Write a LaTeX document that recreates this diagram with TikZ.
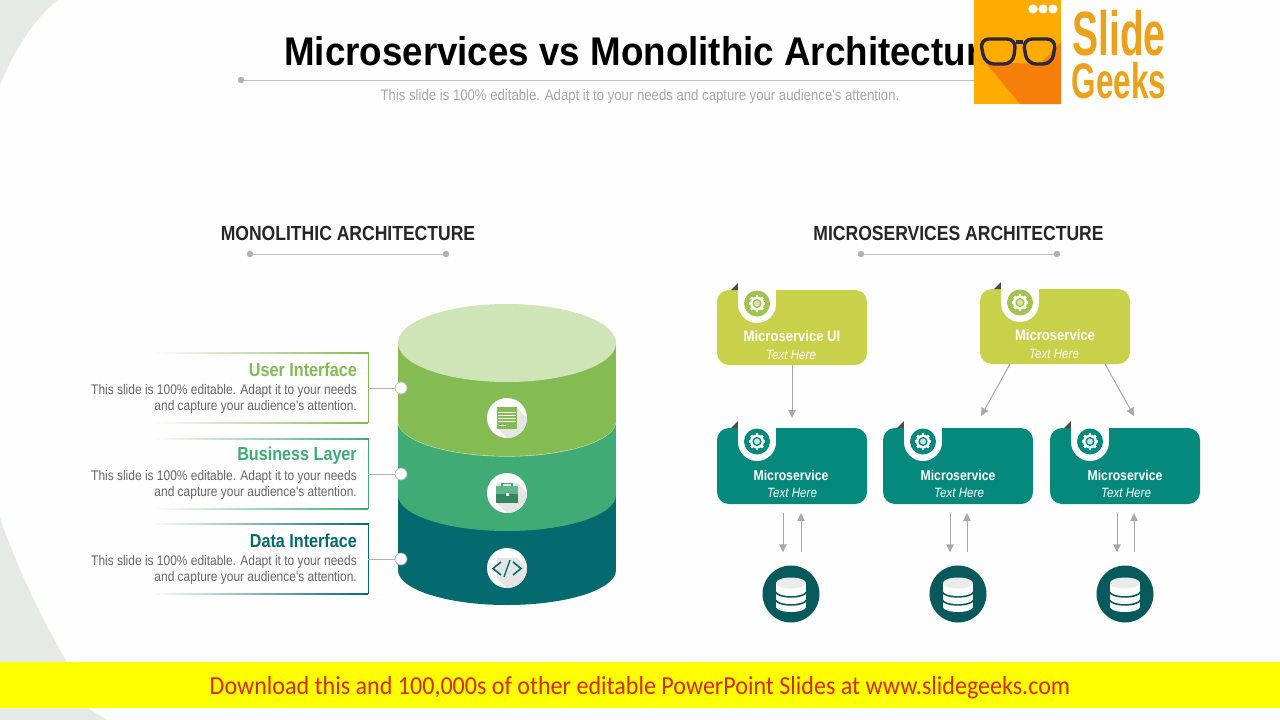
\documentclass[tikz,border=0pt]{standalone}
\usepackage{fontspec}
\usetikzlibrary{arrows.meta}
\setmainfont{Liberation Sans}
\newfontfamily\condfont[FakeStretch=0.86]{Liberation Sans}
\newfontfamily\bannerfont{Carlito}
\newcommand{\fsz}[1]{\fontsize{#1}{#1}\selectfont}
\definecolor{pagebg}{HTML}{FDFEFD}
\definecolor{swoosh}{HTML}{E6EAE6}
\definecolor{toptone}{HTML}{CFE5B8}
\definecolor{usertone}{HTML}{84BB52}
\definecolor{bustone}{HTML}{40AB74}
\definecolor{datatone}{HTML}{046A70}
\definecolor{limebox}{HTML}{C9D14A}
\definecolor{tealbox}{HTML}{05897C}
\definecolor{dbtone}{HTML}{07595C}
\definecolor{arrowgray}{HTML}{A8A8A8}
\definecolor{bodygray}{HTML}{666666}
\definecolor{logoorange}{HTML}{FFAB00}
\definecolor{logodark}{HTML}{F57F0A}
\definecolor{logotext}{HTML}{EBA21A}
\definecolor{lensdark}{HTML}{2D2640}
\definecolor{bandyellow}{HTML}{FFFF00}
\definecolor{bandred}{HTML}{D42A00}
\tikzset{
  headtext/.style={font=\condfont\bfseries\fsz{20.4},text=black!85},
  paneltitle/.style={font=\condfont\bfseries\fsz{18.8},anchor=east,inner sep=0pt},
  paneltext/.style={font=\condfont\fsz{13.9},text=bodygray,anchor=east,align=right,inner sep=0pt},
  boxtitle/.style={font=\condfont\bfseries\fsz{14.2},text=white,inner sep=0pt},
  limetitle/.style={font=\condfont\bfseries\fsz{15.2},text=white,inner sep=0pt},
  boxtext/.style={font=\condfont\itshape\fsz{13.5},text=white!90,inner sep=0pt},
  msbox/.style={rounded corners=12pt,minimum width=150pt,minimum height=75pt,inner sep=0pt,fill=#1},
  dotnode/.style={circle,draw=#1,fill=white,line width=.7pt,minimum size=12pt,inner sep=0pt},
  rulenode/.style={circle,fill=black!30,minimum size=6.5pt,inner sep=0pt},
  dbnode/.style={circle,fill=dbtone,minimum size=57pt,inner sep=0pt},
  flowarrow/.style={draw=arrowgray,line width=1pt,-{Triangle[length=8pt,width=7.5pt]}}
}
% roundel with a long shadow
\newcommand{\iconbase}[2]{
  \fill[white] (#1,#2) circle (20pt);
  \begin{scope}
    \clip (#1,#2) circle (20pt);
    \fill[black!10] (#1-10,#2-10) -- (#1+10,#2-10) -- (#1+30,#2+10) -- (#1+10,#2+30) -- (#1-10,#2+10) -- cycle;
  \end{scope}
}
% tab with gear on a box
\newcommand{\gearicon}[3]{
  \fill[black!70] (#1-61,#2) -- (#1-54,#2-7) -- (#1-54,#2) -- cycle;
  \fill[white] (#1-54,#2-8) rectangle (#1-16,#2+14);
  \fill[white] (#1-35,#2+14) circle (19pt);
  \fill[#3] (#1-35,#2+13.5) circle (13pt);
  \begin{scope}[shift={(#1-35,#2+13.5)}]
    \foreach \a in {0,45,...,315}
      \draw[white,line width=2.8pt] (\a:4) -- (\a:8.4);
    \fill[white] (0,0) circle (7pt);
    \fill[#3] (0,0) circle (4.6pt);
    \fill[white!80!#3] (0,0) circle (3pt);
  \end{scope}
}
\begin{document}
\begin{tikzpicture}[x=1pt,y=-1pt]
  \useasboundingbox (0,0) rectangle (1280,720);
  \fill[pagebg] (0,0) rectangle (1280,720);
  % Fundo
  \fill[swoosh] (0,0) -- (58,0) .. controls (35,18) and (14,50) .. (0,85) -- cycle;
  \fill[swoosh] (0,518) .. controls (20,575) and (45,625) .. (67,662) -- (0,662) -- cycle;
  \fill[swoosh] (0,708) -- (88,708) .. controls (94,712) and (100,716) .. (107,720) -- (0,720) -- cycle;
  % Titulo
  \node[anchor=west,inner sep=0pt,xscale=1.068,font=\condfont\bfseries\fsz{40}] (title) at (284,51) {Microservices vs Monolithic Architecture};
  \node[rulenode] (titledot) at (241,80) {};
  \coordinate (titleend) at (975,80);
  \draw[black!25,line width=.8pt] (titledot) -- (titleend);
  \node[font=\condfont\fsz{15.3},text=arrowgray,inner sep=0pt] (subtitle) at (640,97) {This slide is 100\% editable. Adapt it to your needs and capture your audience's attention.};
  % Logo
  \fill[logoorange] (974,0) rectangle (1061,104);
  \fill[logodark] (1061,42) -- (1061,104) -- (1020,104) -- (985,62) -- (1040,64) -- cycle;
  \foreach \x in {1033,1043,1053}
    \fill[white] (\x,9) circle (4.6pt);
  \draw[lensdark,line width=3.4pt,rounded corners=9pt] (980,39) -- (1016,39) -- (1013,64) -- (985,64) -- cycle;
  \draw[lensdark,line width=3.4pt,rounded corners=9pt] (1023,39) -- (1056,39) -- (1052,64) -- (1027,64) -- cycle;
  \draw[lensdark,line width=3.4pt] (1016,42) -- (1023,42);
  \node[font=\bfseries\fsz{50},text=logotext,xscale=.78,yscale=1.25,inner sep=0pt] (slide) at (1119,33) {Slide};
  \node[font=\bfseries\fsz{50},text=logotext,xscale=.63,yscale=1.0,inner sep=0pt] (geeks) at (1119,81) {Geeks};
  % Cabecalhos
  \node[headtext] (monohead) at (348,233) {MONOLITHIC ARCHITECTURE};
  \node[headtext] (microhead) at (958.5,233) {MICROSERVICES ARCHITECTURE};
  \node[rulenode] (monoa) at (250,254) {};
  \node[rulenode] (monob) at (446,254) {};
  \node[rulenode] (microa) at (861,254) {};
  \node[rulenode] (microb) at (1057,254) {};
  \draw[black!25,line width=.8pt] (monoa) -- (monob);
  \draw[black!25,line width=.8pt] (microa) -- (microb);
  % Cilindro
  \fill[datatone] (398,460) rectangle (616,570);
  \fill[datatone] (507,570) ellipse [x radius=109pt,y radius=35pt];
  \fill[bustone] (398,420) rectangle (616,495);
  \fill[bustone] (507,495) ellipse [x radius=109pt,y radius=36pt];
  \fill[toptone] (507,421) ellipse [x radius=109.4pt,y radius=35.6pt];
  \fill[usertone] (398,343) rectangle (616,421);
  \fill[usertone] (507,421) ellipse [x radius=109pt,y radius=35pt];
  \fill[toptone] (507,343) ellipse [x radius=109pt,y radius=39pt];
  % Icones
  \iconbase{507}{418}
  \fill[usertone] (497,407) rectangle (517,429);
  \foreach \y in {412,415,418,421}
    \draw[white,line width=.6pt] (498,\y) -- (516,\y);
  \draw[white,line width=.8pt] (499,425) -- (506,425);
  \iconbase{507}{493}
  \draw[bustone,line width=1.3pt] (502,486) -- (502,483.5) -- (512,483.5) -- (512,486);
  \fill[bustone!85!white] (496,486) rectangle (518,494);
  \fill[bustone!80!black] (496,494) rectangle (518,503);
  \fill[white] (505.5,492.5) rectangle (508.5,495.5);
  \iconbase{507}{568}
  \draw[datatone,line width=1.6pt] (501,562) -- (493,568.5) -- (501,575);
  \draw[datatone,line width=1.6pt] (513,562) -- (521,568.5) -- (513,575);
  \draw[datatone,line width=1.3pt] (510,560) -- (504,577);
  % Paineis
  \foreach \n/\y/\c/\t in {1/352/usertone/User Interface,2/438/bustone/Business Layer,3/523/datatone/Data Interface}{
    \shade[left color=white,middle color=black!12,right color=\c] (150,\y) rectangle (368,\y+1);
    \shade[left color=white,middle color=black!12,right color=\c] (150,\y+70) rectangle (368,\y+71);
    \draw[\c,line width=1pt] (368,\y) -- (368,\y+71);
    \node[paneltitle,text=\c] (paneltitle\n) at (357,\y+17.5) {\t};
    \node[paneltext] (paneltext\n) at (357,\y+47) {This slide is 100\% editable. Adapt it to your needs\\[1.5pt]and capture your audience's attention.};
    \coordinate (panel\n) at (368,\y+36);
    \node[dotnode=\c!60!black!40] (dot\n) at (401,\y+36) {};
    \draw[black!30,line width=.8pt] (panel\n) -- (dot\n);
  }
  % Caixas
  \node[msbox=limebox] (msui) at (792,327.5) {};
  \node[msbox=limebox] (mstop) at (1055,326.5) {};
  \node[msbox=tealbox,minimum height=76pt] (ms1) at (792,466) {};
  \node[msbox=tealbox,minimum height=76pt] (ms2) at (958,466) {};
  \node[msbox=tealbox,minimum height=76pt] (ms3) at (1125,466) {};
  \gearicon{792}{290}{usertone!60!limebox}
  \gearicon{1055}{289}{usertone!60!limebox}
  \gearicon{792}{428}{tealbox}
  \gearicon{958}{428}{tealbox}
  \gearicon{1125}{428}{tealbox}
  \node[limetitle] (msuititle) at (792,336) {Microservice UI};
  \node[boxtext] (msuitext) at (791,354.5) {Text Here};
  \node[limetitle] (mstoptitle) at (1055,335) {Microservice};
  \node[boxtext] (mstoptext) at (1054,354) {Text Here};
  \foreach \n/\x in {1/791,2/958,3/1125}{
    \node[boxtitle] (ms\n title) at (\x,475.5) {Microservice};
    \node[boxtext] (ms\n text) at (\x+1,492.5) {Text Here};
  }
  % Bases de dados
  \foreach \n/\x in {1/791,2/958,3/1125}{
    \node[dbnode] (db\n) at (\x,594) {};
    \begin{scope}[shift={(\x,594)}]
      \foreach \y in {13,5,-3}{
        \fill[dbtone] (0,\y+1.3) ellipse [x radius=15.8pt,y radius=5.4pt];
        \fill[white] (-15,\y-8) rectangle (15,\y);
        \fill[white] (0,\y) ellipse [x radius=15pt,y radius=5pt];
      }
      \fill[black!8] (0,-11) ellipse [x radius=15pt,y radius=5.5pt];
    \end{scope}
  }
  % Ligacoes
  \coordinate (stema) at (1010,364);
  \coordinate (stemb) at (1105,364);
  \coordinate (taila) at (981,416);
  \coordinate (tailb) at (1134,416);
  \draw[flowarrow,shorten >=10pt] (msui.south) -- (ms1.north);
  \draw[flowarrow] (stema) -- (taila);
  \draw[flowarrow] (stemb) -- (tailb);
  \foreach \n/\l/\r in {1/-9/9,2/-8/9,3/-8/9}{
    \draw[flowarrow,shorten <=9pt,shorten >=13pt] ([xshift=\l pt]ms\n.south) -- ([xshift=\l pt]ms\n.south |- db\n.north);
    \draw[flowarrow,shorten <=13pt,shorten >=9pt] ([xshift=\r pt]ms\n.south |- db\n.north) -- ([xshift=\r pt]ms\n.south);
  }
  % Faixa
  \fill[bandyellow] (0,662) rectangle (1280,708);
  \node[font=\bannerfont\fsz{26},text=bandred,xscale=.925,inner sep=0pt] (banner) at (640,688) {Download this and 100,000s of other editable PowerPoint Slides at www.slidegeeks.com};
\end{tikzpicture}
\end{document}
